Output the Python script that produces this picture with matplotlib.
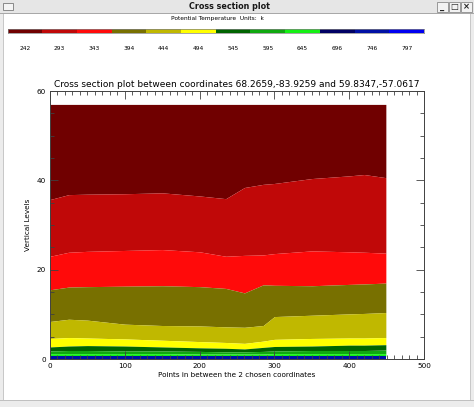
import matplotlib
matplotlib.use("Agg")
import matplotlib.pyplot as plt
from matplotlib.patches import Rectangle
from matplotlib.ticker import MultipleLocator

# ---------------------------------------------------------------
# data
# ---------------------------------------------------------------
levels = [242, 293, 343, 394, 444, 494, 545, 595, 645, 696, 746, 797]
level_colors = ['#700000', '#c00808', '#ff0a0a', '#787000', '#c0b800', '#ffff00',
                '#006400', '#10a810', '#14f014', '#000064', '#0010a4', '#0000f0']

x_pts = [0, 25, 50, 100, 150, 200, 235, 260, 285, 300, 350, 400, 420, 449]
top = [57.0] * len(x_pts)
b1 = [35.7, 36.8, 36.9, 37.0, 37.2, 36.5, 35.9, 38.4, 39.1, 39.3, 40.4, 41.0, 41.3, 40.6]
b2 = [23.0, 23.9, 24.1, 24.3, 24.5, 24.0, 23.0, 23.2, 23.3, 23.6, 24.2, 24.0, 23.9, 23.7]
b3 = [15.5, 16.1, 16.2, 16.3, 16.4, 16.2, 15.8, 14.8, 16.6, 16.5, 16.4, 16.7, 16.8, 17.0]
b4 = [8.4, 8.9, 8.7, 7.8, 7.5, 7.4, 7.2, 7.1, 7.5, 9.5, 9.8, 10.1, 10.2, 10.4]
b5 = [4.6, 4.8, 4.7, 4.5, 4.2, 3.9, 3.7, 3.5, 4.0, 4.4, 4.6, 4.7, 4.7, 4.8]
b6 = [2.7, 2.9, 3.0, 2.9, 2.7, 2.5, 2.4, 2.25, 2.6, 2.8, 2.9, 3.1, 3.1, 3.2]
b7 = [1.8, 1.9, 1.9, 1.8, 1.8, 1.7, 1.6, 1.6, 1.7, 1.8, 1.9, 1.9, 1.9, 2.0]
b8 = [1.2, 1.2, 1.2, 1.2, 1.2, 1.1, 1.1, 1.1, 1.1, 1.2, 1.2, 1.2, 1.2, 1.2]
b9 = [0.6, 0.6, 0.6, 0.6, 0.6, 0.6, 0.6, 0.6, 0.6, 0.6, 0.6, 0.6, 0.6, 0.6]
bottom = [0.0] * len(x_pts)

bounds = [top, b1, b2, b3, b4, b5, b6, b7, b8, b9, bottom]
band_color_idx = [0, 1, 2, 3, 4, 5, 6, 7, 8, 10]

title = 'Cross section plot between coordinates 68.2659,-83.9259 and 59.8347,-57.0617'

# ---------------------------------------------------------------
W, H = 474, 407
fig = plt.figure(figsize=(W / 100, H / 100), dpi=100)
fig.patch.set_facecolor('white')


def fr(x, y, w, h):
    # pixel box (top-left origin) -> figure fraction
    return [x / W, 1 - (y + h) / H, w / W, h / H]


def rect(x, y, w, h, **kw):
    l, b, ww, hh = fr(x, y, w, h)
    fig.add_artist(Rectangle((l, b), ww, hh, transform=fig.transFigure, **kw))


# window chrome
rect(0, 0, W, 13, facecolor='#e6e6e6', edgecolor='none')
rect(0, 13, W, 1, facecolor='#a8a8a8', edgecolor='none')
rect(0, 14, 3, H - 14, facecolor='#ececec', edgecolor='none')
rect(3, 14, 1, 386, facecolor='#c8c8c8', edgecolor='none')
rect(W - 3, 14, 3, H - 14, facecolor='#ececec', edgecolor='none')
rect(W - 4, 14, 1, 386, facecolor='#c8c8c8', edgecolor='none')
rect(0, 400, W, 1, facecolor='#c0c0c0', edgecolor='none')
rect(0, 401, W, 6, facecolor='#ececec', edgecolor='none')
rect(3, 3, 10, 7, facecolor='#f4f4f4', edgecolor='#7a7a7a', linewidth=0.6)
for bx, sym in zip([437, 449, 461], ['_', '□', '×']):
    rect(bx, 2, 11, 10, facecolor='#f2f2f2', edgecolor='#8a8a8a', linewidth=0.6)
    fig.text((bx + 5.5) / W, 1 - 7 / H, sym, ha='center', va='center',
             fontsize=6, fontweight='bold', color='#202020')
fig.text(0.485, 1 - 6.5 / H, 'Cross section plot', ha='center', va='center',
         fontsize=5.8, fontweight='bold', color='#181818')

# colour key at top
fig.text(217 / W, 1 - 18.5 / H, 'Potential Temperature  Units:  k', ha='center',
         va='center', fontsize=4.2, color='black')
cax = fig.add_axes(fr(7.5, 28.5, 416.5, 4))
cax.bar(range(len(levels)), 1, width=1, color=level_colors, align='center')
cax.set_xlim(-0.5, len(levels) - 0.5)
cax.set_ylim(0, 1)
cax.set_yticks([])
cax.set_xticks(range(len(levels)))
cax.set_xticklabels([str(v) for v in levels], fontsize=4.2)
cax.tick_params(axis='x', length=0, pad=10)
for s in cax.spines.values():
    s.set_color('#808080')
    s.set_linewidth(0.5)

# cross section
ax = fig.add_axes(fr(50, 91, 374, 268))
for i, ci in enumerate(band_color_idx):
    ax.fill_between(x_pts, bounds[i + 1], bounds[i], color=level_colors[ci],
                    linewidth=0)
ax.set_xlim(0, 500)
ax.set_ylim(0, 60)
ax.xaxis.set_major_locator(MultipleLocator(100))
ax.xaxis.set_minor_locator(MultipleLocator(10))
ax.yaxis.set_major_locator(MultipleLocator(20))
ax.yaxis.set_minor_locator(MultipleLocator(5))
ax.tick_params(which='both', direction='in', top=True, right=True,
               color='#404040', width=0.6, labelsize=5.2, pad=3)
ax.tick_params(which='major', length=5.5)
ax.tick_params(which='minor', length=2.8)
for s in ax.spines.values():
    s.set_color('#404040')
    s.set_linewidth(0.7)
ax.set_title(title, fontsize=6.5, pad=3)
ax.set_xlabel('Points in between the 2 chosen coordinates', fontsize=5.2, labelpad=2)
ax.set_ylabel('Vertical Levels', fontsize=5.2, labelpad=4)

fig.savefig('out.png', dpi=100)
